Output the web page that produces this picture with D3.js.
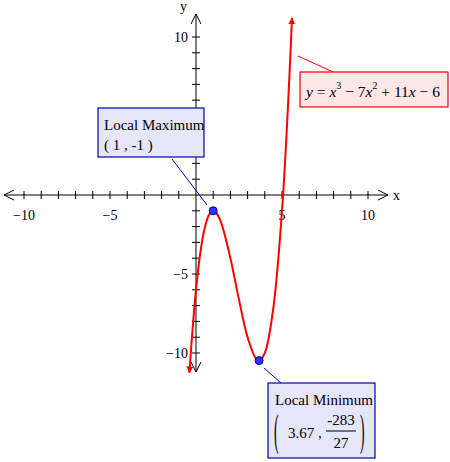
<!DOCTYPE html>
<html><head><meta charset="utf-8">
<script src="https://cdn.jsdelivr.net/npm/d3@7"></script>
<style>body{margin:0;background:#fff}</style></head>
<body><svg id="c" width="450" height="462"></svg>
<script>
const curveX = [-0.38,-0.28,0,0.25,0.5,0.75,1,1.25,1.5,2,2.5,3,3.5,3.67,4,4.5,5,5.25,5.5,5.58];
const curveY = [-11.25,-9.65,-6,-3.67,-2.125,-1.27,-1,-1.24,-1.875,-4,-6.625,-9,-10.375,-10.48,-10,-7.125,-1,3.55,9.15,11.2];
const xTickLabels = [-10,-5,5,10];
const yTickLabels = [10,-5,-10];
const extremaX = [1,3.67];
const extremaY = [-1,-10.48];

const svg = d3.select("#c");
const x = d3.scaleLinear().domain([0,10]).range([196,368]);
const y = d3.scaleLinear().domain([0,10]).range([195,37]);
const font = "Liberation Serif, DejaVu Serif, serif";

const defs = svg.append("defs");
defs.append("marker").attr("id","ar").attr("viewBox","0 0 10 10").attr("refX",9).attr("refY",5)
 .attr("markerWidth",3.5).attr("markerHeight",3.5).attr("orient","auto-start-reverse")
 .append("path").attr("d","M0,0L10,5L0,10Z").attr("fill","red");

const ax = svg.append("g").attr("stroke","#000").attr("fill","none").attr("stroke-width",1);
ax.append("line").attr("x1",4).attr("x2",388).attr("y1",y(0)).attr("y2",y(0));
ax.append("path").attr("d",`M14,${y(0)-5}L4,${y(0)}L14,${y(0)+5}`);
ax.append("path").attr("d",`M378,${y(0)-5}L388,${y(0)}L378,${y(0)+5}`);
ax.append("line").attr("x1",x(0)).attr("x2",x(0)).attr("y1",14).attr("y2",372);
ax.append("path").attr("d",`M${x(0)-5},24L${x(0)},14L${x(0)+5},24`);
ax.append("path").attr("d",`M${x(0)-5},362L${x(0)},372L${x(0)+5},362`);
d3.range(-10,11).filter(v=>v!==0).forEach(v=>{
  ax.append("line").attr("x1",x(v)).attr("x2",x(v)).attr("y1",y(0)-4).attr("y2",y(0)+4);
});
d3.range(-10,11).filter(v=>v!==0).forEach(v=>{
  ax.append("line").attr("y1",y(v)).attr("y2",y(v)).attr("x1",x(0)-4).attr("x2",x(0)+4);
});
const t = svg.append("g").attr("font-family",font).attr("font-size",14).attr("fill","#000");
xTickLabels.forEach(v=>t.append("text").attr("x",x(v)).attr("y",y(0)+25).attr("text-anchor","middle").text(v<0?"\u2212"+(-v):v));
yTickLabels.forEach(v=>t.append("text").attr("x",x(0)-8).attr("y",y(v)+5).attr("text-anchor","end").text(v<0?"\u2212"+(-v):v));
t.append("text").attr("x",393).attr("y",y(0)+5).text("x");
t.append("text").attr("x",180).attr("y",11).text("y");

const pts = curveX.map((v,i)=>[v,curveY[i]]);
svg.append("path").datum(pts).attr("fill","none").attr("stroke","red").attr("stroke-width",2)
 .attr("marker-start","url(#ar)").attr("marker-end","url(#ar)")
 .attr("d",d3.line().x(d=>x(d[0])).y(d=>y(d[1])).curve(d3.curveCatmullRom));

svg.append("line").attr("x1",298).attr("y1",56).attr("x2",333).attr("y2",72).attr("stroke","red");
svg.append("line").attr("x1",172).attr("y1",159).attr("x2",207).attr("y2",205).attr("stroke","#00c");
svg.append("line").attr("x1",264).attr("y1",368).attr("x2",281).attr("y2",383).attr("stroke","#00c");

extremaX.forEach((v,i)=>svg.append("circle").attr("cx",x(v)).attr("cy",y(extremaY[i])).attr("r",4)
 .attr("fill","#3333ee").attr("stroke","#0000aa"));

svg.append("rect").attr("x",300).attr("y",72).attr("width",148).attr("height",35).attr("fill","#fde6e6").attr("stroke","#e00").attr("stroke-width",1.2);
const eq = svg.append("text").attr("x",306).attr("y",97).attr("font-family",font).attr("font-size",15.5);
eq.append("tspan").attr("font-style","italic").text("y");
eq.append("tspan").text(" = ");
eq.append("tspan").attr("font-style","italic").text("x");
eq.append("tspan").attr("font-size",10).attr("dy",-8).text("3");
eq.append("tspan").attr("dy",8).text(" \u2212 7");
eq.append("tspan").attr("font-style","italic").text("x");
eq.append("tspan").attr("font-size",10).attr("dy",-8).text("2");
eq.append("tspan").attr("dy",8).text(" + 11");
eq.append("tspan").attr("font-style","italic").text("x");
eq.append("tspan").text(" \u2212 6");

svg.append("rect").attr("x",98).attr("y",108).attr("width",106).attr("height",49).attr("fill","#e6e6fb").attr("stroke","#00a").attr("stroke-width",1.2);
svg.append("text").attr("x",104).attr("y",130).attr("font-family",font).attr("font-size",15).text("Local Maximum");
svg.append("text").attr("x",104).attr("y",150).attr("font-family",font).attr("font-size",15).text("( 1 , -1 )");

svg.append("rect").attr("x",268).attr("y",383).attr("width",107).attr("height",75).attr("fill","#e6e6fb").attr("stroke","#00a").attr("stroke-width",1.2);
svg.append("text").attr("x",275).attr("y",405).attr("font-family",font).attr("font-size",15).text("Local Minimum");
svg.append("text").attr("transform","translate(274,445) scale(0.8,2.6)").attr("font-family",font).attr("font-size",17).text("(");
svg.append("text").attr("transform","translate(360,445) scale(0.8,2.6)").attr("font-family",font).attr("font-size",17).text(")");
svg.append("text").attr("x",288).attr("y",438).attr("font-family",font).attr("font-size",15).text("3.67 ,");
svg.append("text").attr("x",341).attr("y",425).attr("text-anchor","middle").attr("font-family",font).attr("font-size",15).text("-283");
svg.append("line").attr("x1",326).attr("x2",356).attr("y1",431).attr("y2",431).attr("stroke","#000");
svg.append("text").attr("x",341).attr("y",448).attr("text-anchor","middle").attr("font-family",font).attr("font-size",15).text("27");
</script></body></html>
